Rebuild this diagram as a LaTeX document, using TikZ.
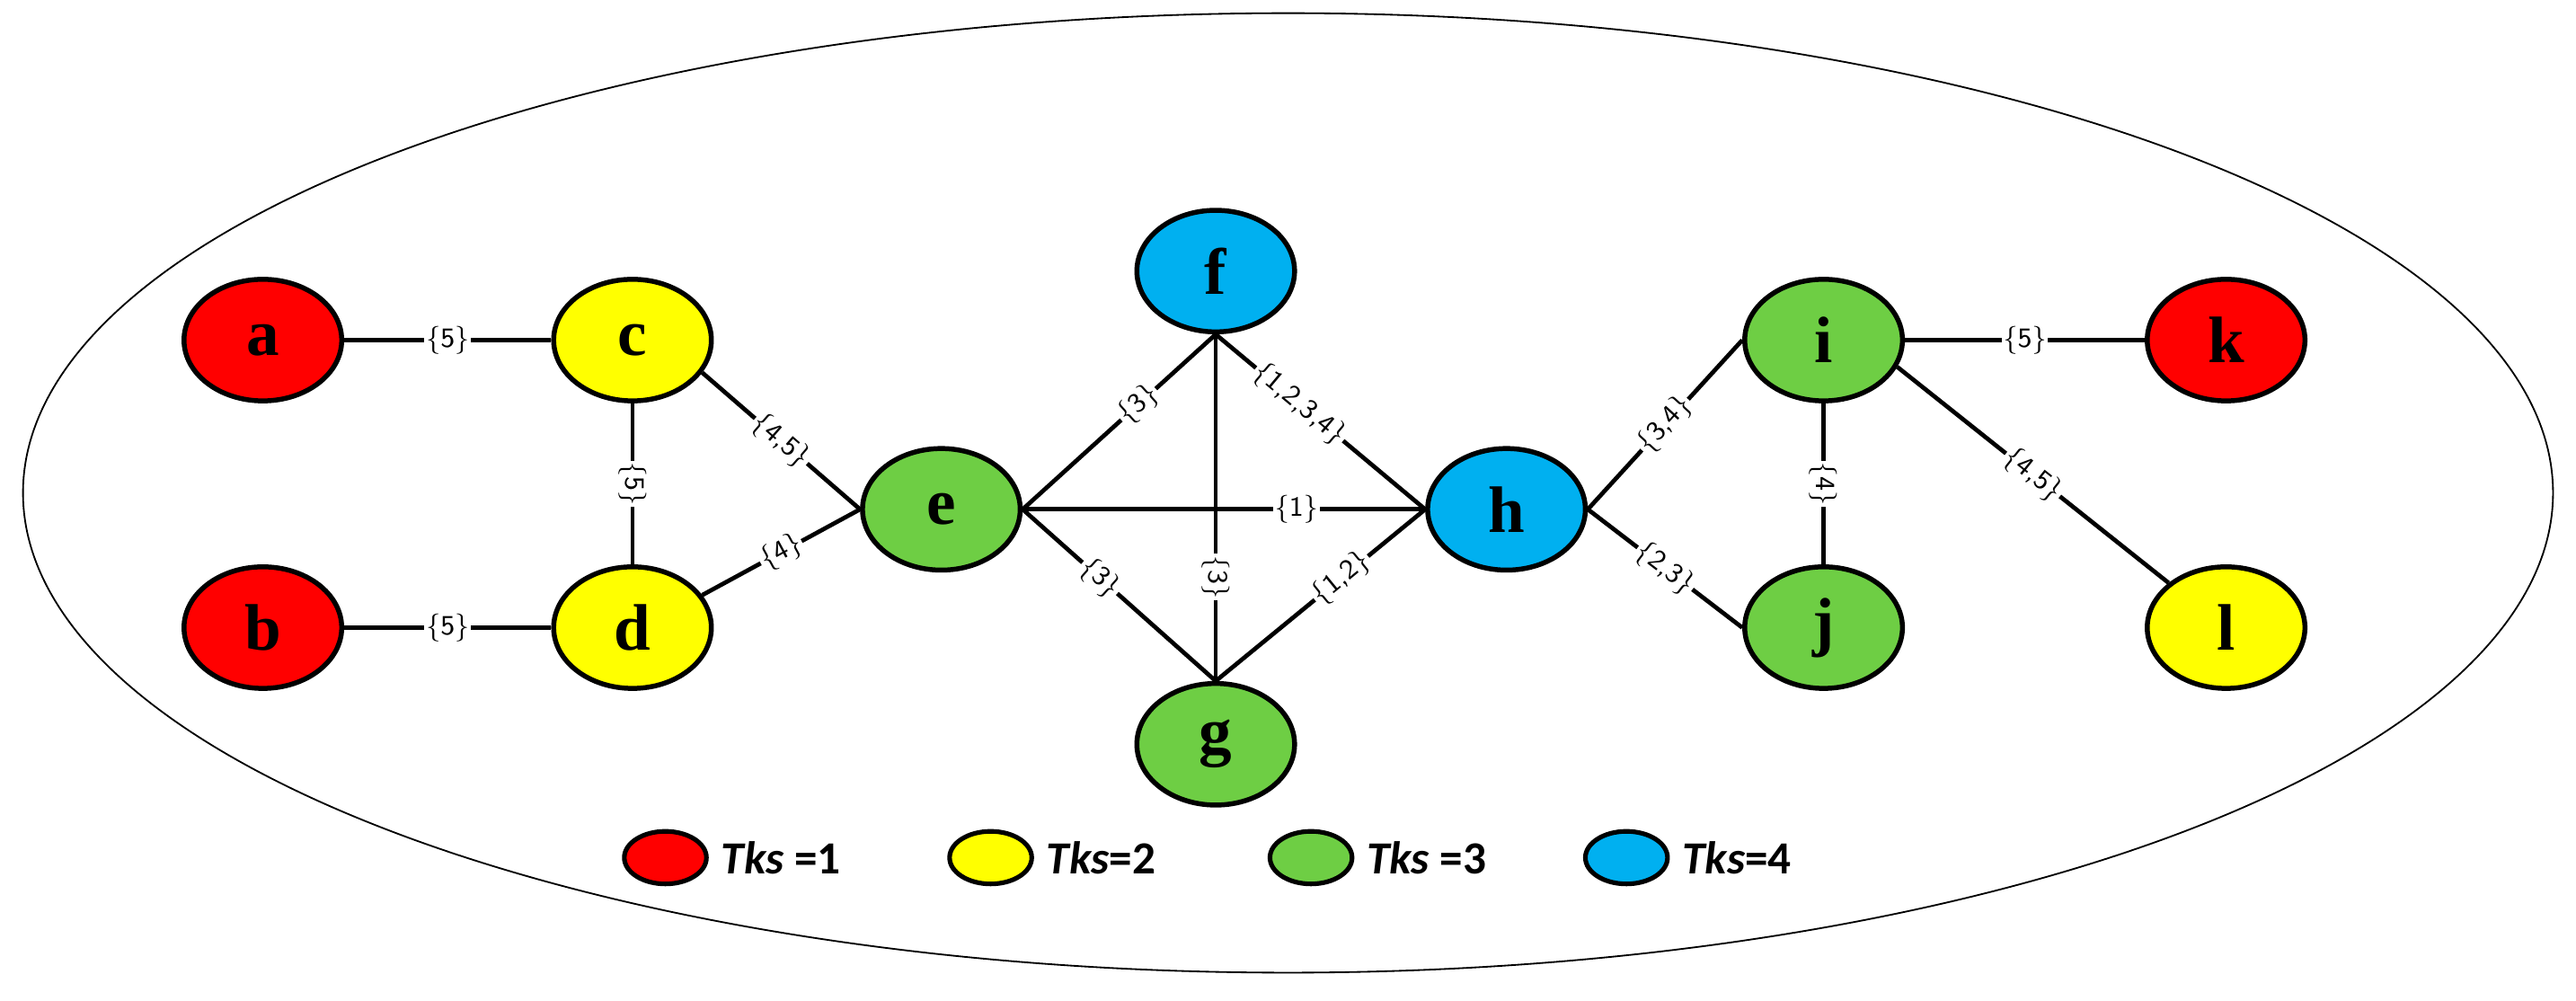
\documentclass[tikz,border=0pt]{standalone}
\usepackage{fontspec}
\setmainfont{Liberation Serif}
\newfontfamily\lgf{Carlito}
\usetikzlibrary{shapes.geometric}
\definecolor{cred}{RGB}{255,0,0}
\definecolor{cyel}{RGB}{255,255,0}
\definecolor{cgrn}{RGB}{110,206,68}
\definecolor{cblu}{RGB}{0,176,240}
\begin{document}
\begin{tikzpicture}[x=0.5pt,y=-0.5pt,
 nd/.style={ellipse,draw,line width=1.5pt,minimum width=48pt,minimum height=37pt,inner sep=0pt,font=\fontsize{20}{20}\selectfont\bfseries},
 lg/.style={ellipse,draw,line width=1.4pt,minimum width=25pt,minimum height=16pt,inner sep=0pt},
 ed/.style={line width=1.3pt},
 el/.style={fill=white,inner sep=0.5pt,sloped,font=\fontsize{8.5}{8.5}\selectfont\sffamily},
 lt/.style={anchor=west,font=\lgf\fontsize{14}{14}\selectfont\bfseries}]
\useasboundingbox (0,0) rectangle (1568,609);
\node[ellipse,draw,line width=0.5pt,minimum width=770pt,minimum height=292pt] (big) at (784,300) {};
\node[nd,fill=cred] (a) at (160,207) {a};
\node[nd,fill=cyel] (c) at (385,207) {c};
\node[nd,fill=cred] (b) at (160,382) {b};
\node[nd,fill=cyel] (d) at (385,382) {d};
\node[nd,fill=cgrn] (e) at (573,310) {e};
\node[nd,fill=cblu] (f) at (740,165) {f};
\node[nd,fill=cgrn] (g) at (740,453) {g};
\node[nd,fill=cblu] (h) at (917,310) {h};
\node[nd,fill=cgrn] (i) at (1110,207) {i};
\node[nd,fill=cgrn] (j) at (1110,382) {j};
\node[nd,fill=cred] (k) at (1355,207) {k};
\node[nd,fill=cyel] (l) at (1355,382) {l};
\draw[ed] (a.east) -- node[el]{\{5\}} (c.west);
\draw[ed] (b.east) -- node[el]{\{5\}} (d.west);
\draw[ed] (c.south) -- node[el]{\{5\}} (d.north);
\draw[ed] (c.-25) -- node[el]{\{4,5\}} (e.west);
\draw[ed] (d.25) -- node[el]{\{4\}} (e.west);
\draw[ed] (e.east) -- node[el,pos=0.6]{\{3\}} (f.south);
\draw[ed] (e.east) -- node[el,pos=0.68]{\{1\}} (h.west);
\draw[ed] (e.east) -- node[el,pos=0.4]{\{3\}} (g.north);
\draw[ed] (f.south) -- node[el,pos=0.7]{\{3\}} (g.north);
\draw[ed] (f.south) -- node[el,pos=0.4]{\{1,2,3,4\}} (h.west);
\draw[ed] (g.north) -- node[el,pos=0.6]{\{1,2\}} (h.west);
\draw[ed] (h.east) -- node[el]{\{3,4\}} (i.west);
\draw[ed] (h.east) -- node[el]{\{2,3\}} (j.west);
\draw[ed] (i.south) -- node[el]{\{4\}} (j.north);
\draw[ed] (i.east) -- node[el]{\{5\}} (k.west);
\draw[ed] (i.-20) -- node[el]{\{4,5\}} (l.north west);
\node[lg,fill=cred] (l1) at (405,522) {};
\node[lt] (t1) at (432,522) {\itshape Tks\upshape{} =1};
\node[lg,fill=cyel] (l2) at (603,522) {};
\node[lt] (t2) at (630,522) {\itshape Tks\upshape=2};
\node[lg,fill=cgrn] (l3) at (798,522) {};
\node[lt] (t3) at (825,522) {\itshape Tks\upshape{} =3};
\node[lg,fill=cblu] (l4) at (990,522) {};
\node[lt] (t4) at (1017,522) {\itshape Tks\upshape=4};
\end{tikzpicture}
\end{document}
